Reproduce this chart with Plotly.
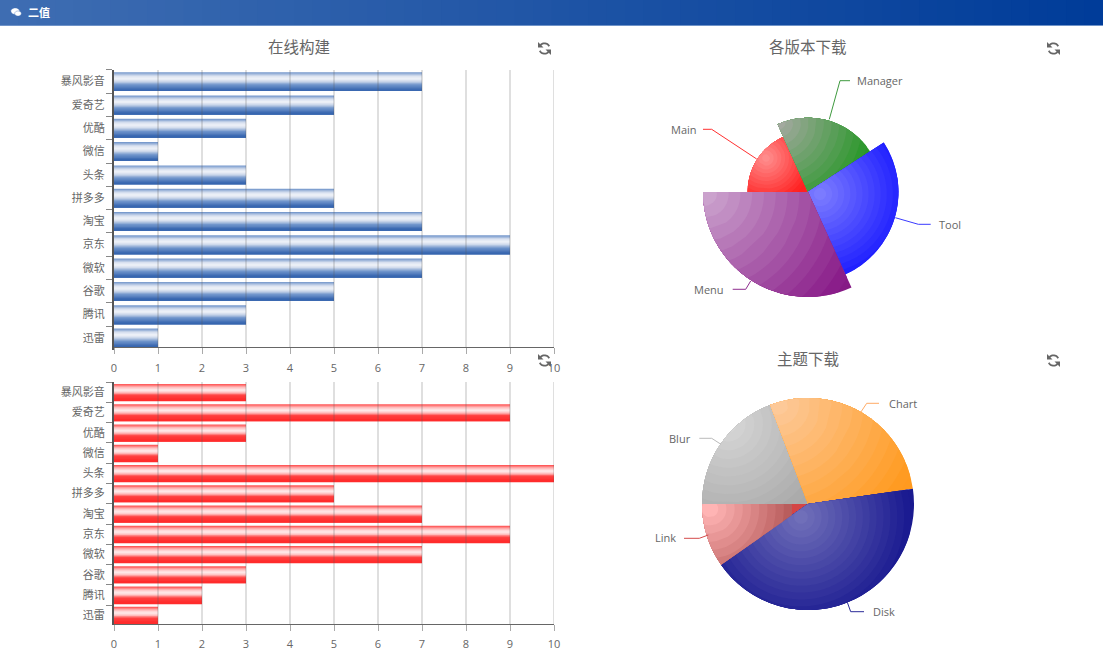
import math
import plotly.graph_objects as go

W, H = 1103, 657
categories = ["暴风影音", "爱奇艺", "优酷", "微信", "头条", "拼多多", "淘宝", "京东", "微软", "谷歌", "腾讯", "迅雷"]
build_values = [7, 5, 3, 1, 3, 5, 7, 9, 7, 5, 3, 1]
theme_bar_values = [3, 9, 3, 1, 10, 5, 7, 9, 7, 3, 2, 1]
version_names = ["Main", "Manager", "Tool", "Menu"]
version_values = [18.3, 22.5, 27.4, 31.8]
theme_names = ["Blur", "Chart", "Disk", "Link"]
theme_values = [19.2, 28.5, 42.6, 9.7]

FONT = "Open Sans, Noto Sans CJK SC, sans-serif"
TEXT = "#666666"


def px(x):
    return x / W


def py(y):
    return 1 - y / H


def hexrgb(c):
    c = c.lstrip("#")
    return [int(c[i:i + 2], 16) for i in (0, 2, 4)]


def lerp(a, b, t):
    a, b = hexrgb(a), hexrgb(b)
    return "rgb(%d,%d,%d)" % tuple(round(a[i] + (b[i] - a[i]) * t) for i in range(3))


def ramp(stops, t):
    for (t0, c0), (t1, c1) in zip(stops, stops[1:]):
        if t <= t1:
            return lerp(c0, c1, (t - t0) / (t1 - t0))
    return stops[-1][1]


fig = go.Figure()
shapes = []
annotations = []

# header band
N_HEAD = 60
for i in range(N_HEAD):
    shapes.append(dict(type="rect", xref="paper", yref="paper", layer="below",
                       x0=i / N_HEAD, x1=min(1, (i + 1.5) / N_HEAD), y0=py(25), y1=1, line_width=0,
                       fillcolor=lerp("#3e6db2", "#003c99", i / (N_HEAD - 1))))
shapes.append(dict(type="line", xref="paper", yref="paper", layer="below", x0=0, x1=1, y0=py(25.5), y1=py(25.5),
                   line=dict(color="#6f93c8", width=1)))


def px_path(points, close=False):
    s = "M" + " L".join("%.5f,%.5f" % (px(x), py(y)) for x, y in points)
    return s + (" Z" if close else "")


# chat icon
def ellipse_pts(cx, cy, rx, ry):
    return [(cx + rx * math.cos(a * math.pi / 12), cy + ry * math.sin(a * math.pi / 12)) for a in range(24)]


for pts in (ellipse_pts(15.2, 11.2, 4.3, 3.2), ellipse_pts(18, 13.5, 3.3, 2.5)):
    shapes.append(dict(type="path", xref="paper", yref="paper", path=px_path(pts, True),
                       fillcolor="white", line=dict(color="#3e6db2", width=0.4)))
annotations.append(dict(text="<b>二值</b>", x=px(28), y=py(12.5), xref="paper", yref="paper", xanchor="left",
                        yanchor="middle", showarrow=False, borderpad=0, xshift=-1.5,
                        font=dict(family=FONT, size=11, color="white")))


# refresh icons
def refresh_icon(cx, cy):
    r = 5.2
    for a0, a1, s in ((-25, -140, 1), (155, 40, -1)):
        arc = [(cx + r * math.cos(math.radians(a0 + (a1 - a0) * i / 12)),
                cy + r * math.sin(math.radians(a0 + (a1 - a0) * i / 12))) for i in range(13)]
        shapes.append(dict(type="path", xref="paper", yref="paper", path=px_path(arc),
                           line=dict(color="#666666", width=1.8)))
        shapes.append(dict(type="path", xref="paper", yref="paper", fillcolor="#666666", line_width=0,
                           path=px_path([(cx - 6.5 * s, cy - 6.5 * s), (cx - 6.5 * s, cy - 1 * s),
                                         (cx - 1 * s, cy - 1 * s)], True)))


for c in ((544.5, 48.5), (1053.5, 48.5), (544.5, 360.5), (1053.5, 360.5)):
    refresh_icon(*c)

# titles
for t, x, y in (("在线构建", 299, 47), ("各版本下载", 808, 47), ("主题下载", 808, 359)):
    annotations.append(dict(text=t, x=px(x), y=py(y), xref="paper", yref="paper", showarrow=False,
                            font=dict(family=FONT, size=15.5, color="#666666"), xanchor="center", yanchor="middle"))

# bars
BLUE = [(0, "#6a90c8"), (0.2, "#d8e0ef"), (0.35, "#f0f3f9"), (0.5, "#ccd7ea"), (0.68, "#6f94cb"), (1, "#3262ad")]
RED = [(0, "#ff4a4a"), (0.2, "#ffc0c0"), (0.36, "#ffecec"), (0.5, "#ffc8c8"), (0.68, "#ff4040"), (1, "#ff2a2a")]
BANDS = 20


def add_bars(values, stops, bar, xa, ya):
    for k in range(BANDS):
        top = -bar / 2 + bar * k / BANDS
        fig.add_trace(go.Bar(x=values, y=categories, orientation="h", xaxis=xa, yaxis=ya,
                             width=bar / 2 - top, offset=top,
                             marker=dict(color=ramp(stops, (k + 0.5) / BANDS), line_width=0),
                             showlegend=False, hoverinfo="x+y"))


add_bars(build_values, BLUE, 0.8, "x", "y")
add_bars(theme_bar_values, RED, 0.82, "x2", "y2")

for xr, top, bottom in (("x", 70, 347.3), ("x2", 382, 624)):
    for v in range(1, 11):
        shapes.append(dict(type="line", xref=xr, yref="paper", x0=v, x1=v, y0=py(bottom), y1=py(top), layer="above",
                           line=dict(color="rgba(90,90,90,0.26)", width=1.5)))


def axis_x(ypos):
    return dict(domain=[px(114), px(554)], range=[0, 10], anchor="free", position=py(ypos),
                dtick=1, tick0=0, showgrid=False, showline=True, linecolor="#666666", linewidth=1,
                ticks="outside", ticklen=6, tickcolor="#aaaaaa", ticklabelstandoff=4,
                tickfont=dict(family=FONT, size=11, color=TEXT), zeroline=False)


def axis_y(top, bottom, anchor):
    return dict(domain=[py(bottom), py(top)], anchor=anchor, type="category", categoryorder="array",
                categoryarray=categories, autorange="reversed", showgrid=False, showline=True, linecolor="#555555",
                linewidth=2, ticks="outside", ticklen=6, tickcolor="#888888", tickson="boundaries",
                ticklabelstandoff=5, tickfont=dict(family=FONT, size=11, color=TEXT), zeroline=False)


# pies
SCALE = 3.3


def add_slices(subplot, values, radii, colors, grads):
    total = sum(values)
    start = 270.0
    spans = [v / total * 360 for v in values]
    mids = []
    a = start
    for s in spans:
        mids.append(a + s / 2)
        a += s
    fig.add_trace(go.Barpolar(r=radii, theta=mids, width=spans, subplot=subplot, showlegend=False,
                              marker=dict(color=colors, line_width=0), hoverinfo="theta+r"))
    a = start
    for s, rad, grad in zip(spans, radii, grads):
        gx, gy, rg, inner, outer, n = grad
        for k in range(n - 1, -1, -1):
            disc = rg * (k + 1) / n
            far, near = [], []
            steps = 90
            for i in range(steps + 1):
                th = a + s * i / steps
                ux, uy = math.sin(math.radians(th)), -math.cos(math.radians(th))
                proj = gx * ux + gy * uy
                d2 = disc ** 2 - (gx ** 2 + gy ** 2 - proj ** 2)
                if d2 < 0:
                    continue
                r2 = min(proj + math.sqrt(d2), rad * SCALE)
                r1 = max(proj - math.sqrt(d2), 0)
                if r2 <= r1:
                    continue
                far.append((r2 / SCALE, th))
                near.append((r1 / SCALE, th))
            pts = far + near[::-1]
            if len(pts) < 3:
                continue
            pts.append(pts[0])
            fig.add_trace(go.Scatterpolar(r=[p[0] for p in pts], theta=[p[1] for p in pts], subplot=subplot,
                                          mode="lines", fill="toself", line=dict(width=0),
                                          fillcolor=lerp(inner, outer, k / max(n - 1, 1)),
                                          showlegend=False, hoverinfo="skip"))
        a += s


# gradient offset x, offset y, radius in pixels from the pie centre; inner, outer colours; band count
add_slices("polar", version_values, version_values,
           ["#ff2020", "#2a962a", "#1a1aff", "#861a86"],
           [(-42, -34, 46, "#ff8c8c", "#ff2424", 12),
            (-30, -70, 92, "#a3a99f", "#2f982f", 12),
            (12, 2, 85, "#7b7bff", "#2020ff", 14),
            (-103, 2, 165, "#cba2cd", "#8a1e8a", 14)])
theme_r = [106 / SCALE] * 4
add_slices("polar2", theme_values, theme_r,
           ["#a9a9a9", "#ff9a1f", "#1a1a90", "#d44545"],
           [(-80, -80, 105, "#d6d6d6", "#ababab", 12),
            (-30, -100, 150, "#fdc998", "#ff9b22", 14),
            (-7, 13, 110, "#706fb9", "#1b1b91", 16),
            (-98, 5, 82, "#ffb4b4", "#b95d5d", 10)])


def polar_layout(cx, cy, half):
    return dict(domain=dict(x=[px(cx - half), px(cx + half)], y=[py(cy + half), py(cy - half)]),
                bgcolor="rgba(0,0,0,0)",
                radialaxis=dict(range=[0, half / SCALE], visible=False),
                angularaxis=dict(visible=False, direction="clockwise", rotation=90))


# leaders and labels
LABELS = [
    ("Main", "#ff3030", [(756.7, 159), (711.7, 129.3), (703, 129.3)], 695.7, 130, "right"),
    ("Manager", "#3f9a3f", [(829.3, 119.3), (840, 80.7), (850, 80.7)], 858.7, 81, "left"),
    ("Tool", "#3a3aff", [(895.3, 217.7), (918.3, 224.3), (930.7, 224.3)], 940, 225, "left"),
    ("Menu", "#8e2c8e", [(750.7, 281), (745.7, 289.3), (732.7, 289.3)], 722.3, 290, "right"),
    ("Chart", "#ffab66", [(860.7, 412.3), (866.7, 403.3), (879, 403.3)], 890, 404, "left"),
    ("Blur", "#bbbbbb", [(721, 444.3), (711.7, 438.3), (699.3, 438.3)], 689.3, 439, "right"),
    ("Link", "#d44a4a", [(708.3, 535), (699.3, 538.3), (684, 538.3)], 674.3, 538, "right"),
    ("Disk", "#2a2a98", [(847.3, 602.3), (850.7, 611.7), (864, 611.7)], 874, 612, "left"),
]
for name, col, pts, tx, ty, anc in LABELS:
    shapes.append(dict(type="path", xref="paper", yref="paper", path=px_path(pts), line=dict(color=col, width=1)))
    annotations.append(dict(text=name, x=px(tx), y=py(ty), xref="paper", yref="paper", xanchor=anc, yanchor="middle",
                            showarrow=False, borderpad=0, xshift=-2.5 if anc == "left" else 2.5, yshift=1,
                            font=dict(family=FONT, size=11, color=TEXT)))

fig.update_layout(
    width=W, height=H, margin=dict(l=0, r=0, t=0, b=0, autoexpand=False), paper_bgcolor="white", plot_bgcolor="white",
    barmode="overlay", shapes=shapes, annotations=annotations,
    xaxis=axis_x(347.3), yaxis=axis_y(69.85, 349.5, "x"),
    xaxis2=axis_x(624), yaxis2=axis_y(382.2, 625.3, "x2"),
    polar=polar_layout(808, 192, 125), polar2=polar_layout(808, 504, 125),
    font=dict(family=FONT),
)

fig.write_html("out.html", config=dict(displayModeBar=False), post_script="document.body.style.margin='0';")
